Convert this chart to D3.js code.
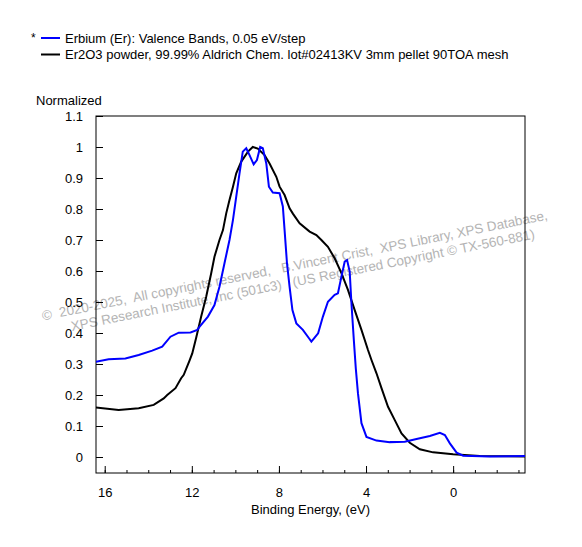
<!DOCTYPE html>
<html>
<head>
<meta charset="utf-8">
<script src="https://cdn.jsdelivr.net/npm/d3@7"></script>
<style>
  body { margin: 0; background: #fff; }
  svg text { font-family: "Liberation Sans", Arial, sans-serif; }
</style>
</head>
<body>
<svg id="chart" width="582" height="547"></svg>
<script>
// binding energy (eV) / normalized intensity
const metalEnergy = [16.43, 15.82, 15.05, 14.44, 13.82, 13.36, 12.98, 12.6, 12.06, 11.75, 11.65, 11.26, 10.96, 10.73, 10.5, 10.27, 10.11, 9.96, 9.81, 9.66, 9.5, 9.35, 9.16, 9.01, 8.86, 8.74, 8.58, 8.46, 8.28, 7.97, 7.82, 7.74, 7.63, 7.51, 7.38, 7.2, 6.9, 6.62, 6.51, 6.36, 6.2, 5.98, 5.75, 5.44, 5.29, 5.13, 4.98, 4.87, 4.75, 4.67, 4.56, 4.47, 4.37, 4.21, 3.98, 3.52, 2.91, 2.22, 1.68, 1.07, 0.61, 0.38, 0.15, -0.16, -0.46, -1.69, -3.3];
const metalValues = [0.307, 0.315, 0.318, 0.329, 0.343, 0.356, 0.388, 0.401, 0.402, 0.41, 0.42, 0.453, 0.49, 0.549, 0.625, 0.7, 0.765, 0.84, 0.915, 0.985, 0.996, 0.974, 0.944, 0.958, 1.0, 0.996, 0.947, 0.872, 0.853, 0.851, 0.808, 0.732, 0.625, 0.549, 0.474, 0.431, 0.41, 0.383, 0.372, 0.385, 0.399, 0.453, 0.501, 0.523, 0.528, 0.582, 0.63, 0.635, 0.598, 0.496, 0.377, 0.286, 0.205, 0.109, 0.065, 0.053, 0.048, 0.049, 0.058, 0.068, 0.078, 0.071, 0.044, 0.014, 0.004, 0.002, 0.003];

const oxideEnergy = [16.43, 15.36, 14.44, 13.75, 13.29, 13.13, 12.75, 12.49, 12.37, 12.11, 11.98, 11.8, 11.57, 11.34, 11.11, 10.96, 10.73, 10.57, 10.42, 10.27, 10.11, 9.96, 9.73, 9.42, 9.2, 8.97, 8.66, 8.43, 8.12, 7.97, 7.74, 7.51, 7.36, 7.05, 6.59, 6.28, 6.05, 5.75, 5.44, 5.13, 4.83, 4.52, 4.21, 3.91, 3.75, 3.52, 3.29, 2.99, 2.68, 2.37, 1.99, 1.53, 0.92, 0, -1.23, -3.3];
const oxideValues = [0.16, 0.152, 0.157, 0.168, 0.189, 0.2, 0.222, 0.254, 0.265, 0.31, 0.334, 0.385, 0.453, 0.517, 0.593, 0.646, 0.7, 0.732, 0.786, 0.829, 0.872, 0.915, 0.953, 0.985, 1.0, 0.995, 0.974, 0.947, 0.904, 0.872, 0.845, 0.802, 0.785, 0.754, 0.727, 0.716, 0.7, 0.678, 0.641, 0.593, 0.539, 0.474, 0.41, 0.345, 0.313, 0.27, 0.222, 0.162, 0.119, 0.076, 0.046, 0.025, 0.015, 0.009, 0.003, 0.002];

const xTicks = [16, 12, 8, 4, 0];
const xMinorTicks = d3.range(-3, 17);
const yTicks = [0, 0.1, 0.2, 0.3, 0.4, 0.5, 0.6, 0.7, 0.8, 0.9, 1, 1.1];

const legendLabels = [
  "Erbium (Er): Valence Bands, 0.05 eV/step",
  "Er2O3 powder, 99.99% Aldrich Chem. lot#02413KV 3mm pellet 90TOA mesh"
];
const legendColors = ["#0000ff", "#000000"];

const svg = d3.select("#chart");
const plotL = 96, plotR = 525, plotT = 116, plotB = 473;
const fs = "13px";

const x = d3.scaleLinear().domain([16.4, -3.3]).range([plotL, plotR]);
const y = d3.scaleLinear().domain([-0.0516, 1.1]).range([plotB, plotT]);

// clip for the curves
svg.append("clipPath").attr("id", "plotClip")
  .append("rect").attr("x", plotL).attr("y", plotT)
  .attr("width", plotR - plotL).attr("height", plotB - plotT);

// watermark
const wm = svg.append("g").attr("fill", "#b4b4b4").style("font-size", "13.5px");
wm.append("text")
  .attr("transform", "translate(43,320.5) rotate(-11.3)")
  .attr("xml:space", "preserve").style("white-space", "pre")
  .text("©  2020-2025,  All copyrights reserved,   B.Vincent Crist,  XPS Library, XPS Database,");
wm.append("text")
  .attr("transform", "translate(72,331) rotate(-11.3)")
  .attr("xml:space", "preserve").style("white-space", "pre")
  .text("XPS Research Institute, Inc (501c3)   (US Registered Copyright © TX-560-881)");

// x axis, major + minor ticks pointing inward
const xAxis = svg.append("g").attr("transform", `translate(0,${plotB})`)
  .call(d3.axisBottom(x).tickValues(xTicks).tickSize(-7).tickPadding(15).tickFormat(d3.format("d")));
svg.append("g").attr("transform", `translate(0,${plotB})`)
  .call(d3.axisBottom(x).tickValues(xMinorTicks).tickSize(-3).tickFormat(""))
  .select(".domain").remove();
xAxis.select(".domain").remove();
xAxis.selectAll("text").style("font-size", fs).attr("fill", "#000");

const yAxis = svg.append("g").attr("transform", `translate(${plotL},0)`)
  .call(d3.axisLeft(y).tickValues(yTicks).tickSize(-7).tickPadding(13).tickFormat(d => String(d)));
yAxis.select(".domain").remove();
yAxis.selectAll("text").style("font-size", fs).attr("fill", "#000");

svg.append("rect")
  .attr("x", plotL).attr("y", plotT)
  .attr("width", plotR - plotL).attr("height", plotB - plotT)
  .attr("fill", "none").attr("stroke", "#000").attr("stroke-width", 1);

// curves
const line = d3.line().x(d => x(d[0])).y(d => y(d[1]));
const plot = svg.append("g").attr("clip-path", "url(#plotClip)");
plot.append("path")
  .datum(d3.zip(oxideEnergy, oxideValues))
  .attr("d", line).attr("fill", "none")
  .attr("stroke", legendColors[1]).attr("stroke-width", 2);
plot.append("path")
  .datum(d3.zip(metalEnergy, metalValues))
  .attr("d", line).attr("fill", "none")
  .attr("stroke", legendColors[0]).attr("stroke-width", 2);

// axis titles
svg.append("text").attr("x", 36).attr("y", 105)
  .style("font-size", fs).text("Normalized");
svg.append("text").attr("x", (plotL + plotR) / 2).attr("y", 514)
  .attr("text-anchor", "middle").style("font-size", fs)
  .text("Binding Energy, (eV)");

// legend
svg.append("text").attr("x", 31).attr("y", 42).style("font-size", "12px").text("*");
const leg = svg.append("g");
legendLabels.forEach((lab, i) => {
  const ly = 38 + i * 16.5;
  leg.append("line").attr("x1", 41).attr("x2", 60).attr("y1", ly).attr("y2", ly)
    .attr("stroke", legendColors[i]).attr("stroke-width", 2);
  leg.append("text").attr("x", 65).attr("y", ly + 4.5)
    .style("font-size", fs).text(lab);
});
</script>
</body>
</html>
